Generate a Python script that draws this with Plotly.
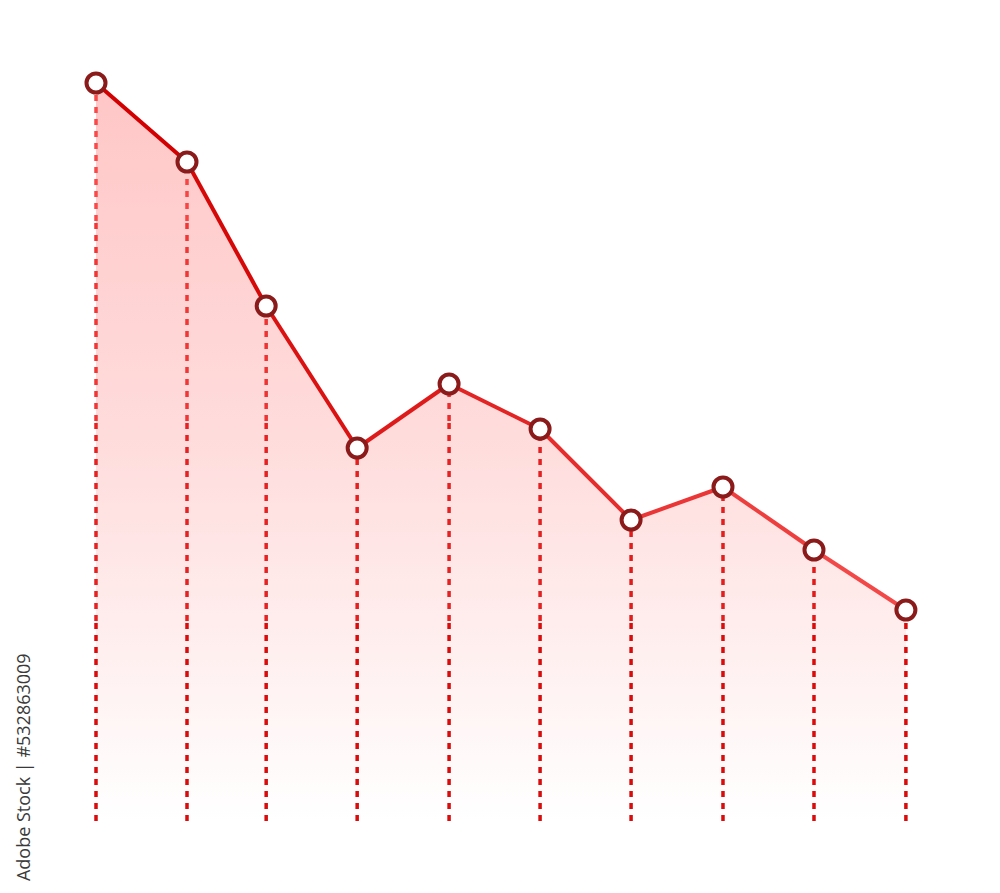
import plotly.graph_objects as go


# --------------------------------------------------------------
# Data
# --------------------------------------------------------------

x_pos = [1, 2, 2.87, 3.87, 4.88, 5.88, 6.88, 7.89, 8.89, 9.9]
values = [73.8, 65.9, 51.5, 37.3, 43.7, 39.2, 30.1, 33.4, 27.1, 21.1]
credit = "Adobe Stock | #532863009"


def mix(c1, c2, t):
    r = [round(a + (b - a) * t) for a, b in zip(c1, c2)]
    return f"rgb({r[0]},{r[1]},{r[2]})"


fig = go.Figure()

# --------------------------------------------------------------
# Gradient fill under the line
# --------------------------------------------------------------

fig.add_trace(go.Scatter(
    x=x_pos, y=values, mode="lines", fill="tozeroy",
    line=dict(width=0, color="rgba(0,0,0,0)"),
    fillgradient=dict(type="vertical", start=0, stop=max(values),
                      colorscale=[[0, "rgba(255,255,255,1)"],
                                  [0.5, "rgba(255,221,221,1)"],
                                  [1, "rgba(255,198,198,1)"]]),
    hoverinfo="skip", showlegend=False))

# --------------------------------------------------------------
# Dashed drop lines, darker towards the bottom
# --------------------------------------------------------------

bands = [0, 20, 40, 60, 80]
for xv, yv in zip(x_pos, values):
    for lo, hi in zip(bands[:-1], bands[1:]):
        if lo >= yv:
            break
        top = min(hi, yv)
        t = (lo + top) / 2 / max(values)
        fig.add_trace(go.Scatter(
            x=[xv, xv], y=[lo, top], mode="lines",
            line=dict(color=mix((214, 0, 0), (255, 80, 80), t), width=3.5, dash="6px,6px"),
            hoverinfo="skip", showlegend=False))

# --------------------------------------------------------------
# Main line, dark red on the left to lighter red on the right
# --------------------------------------------------------------

n = len(values)
for i in range(n - 1):
    t = i / (n - 2)
    fig.add_trace(go.Scatter(
        x=x_pos[i:i + 2], y=values[i:i + 2], mode="lines",
        line=dict(color=mix((210, 0, 0), (242, 72, 72), t), width=4),
        hoverinfo="skip", showlegend=False))

fig.add_trace(go.Scatter(
    x=x_pos, y=values, mode="markers",
    marker=dict(size=19, color="white", line=dict(color="#8b1a1a", width=4)),
    showlegend=False))

fig.add_annotation(
    text=credit, xref="paper", yref="paper", x=0.015, y=0.150,
    xanchor="center", yanchor="middle",
    textangle=-90, showarrow=False,
    font=dict(family="Open Sans", size=18, color="#3a3a3a"))

fig.update_layout(
    width=1000, height=893,
    margin=dict(l=0, r=0, t=0, b=0),
    paper_bgcolor="white", plot_bgcolor="white",
    xaxis=dict(range=[0.033, 11.022], visible=False, fixedrange=True),
    yaxis=dict(range=[-8.0, 81.3], visible=False, fixedrange=True),
)

fig.write_html("out.html")
